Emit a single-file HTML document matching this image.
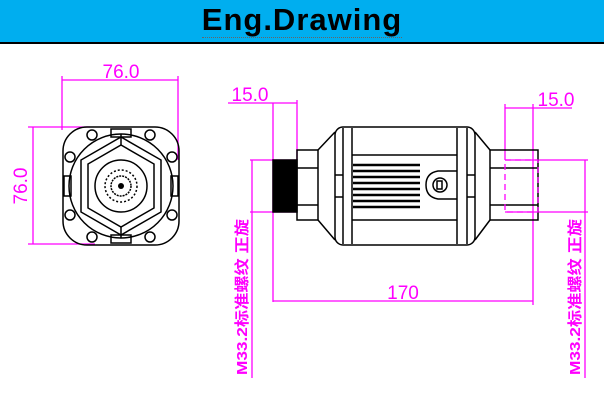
<!DOCTYPE html>
<html><head><meta charset="utf-8"><style>
html,body{margin:0;padding:0;background:#fff;}
body{width:604px;height:414px;overflow:hidden;position:relative;}
.hdr{position:absolute;left:0;top:0;width:604px;height:42px;background:#00aeef;border-bottom:2px solid #000;}
.t{position:absolute;left:0;width:604px;top:2px;text-align:center;font:bold 31px "Liberation Sans Narrow","Liberation Sans","Noto Sans CJK SC",sans-serif;color:#000;letter-spacing:1px;}
svg{position:absolute;left:0;top:0;}
</style></head><body>
<div class="hdr"><div class="t"><span style="border-bottom:1px dotted #666">Eng.Drawing</span></div></div>
<svg width="604" height="414" viewBox="0 0 604 414">
<g stroke="#f0f" stroke-width="1.3" fill="none">
<line x1="62" y1="80" x2="178" y2="80"/><line x1="62" y1="76" x2="62" y2="130"/><line x1="178" y1="76" x2="178" y2="160"/>
<line x1="33" y1="127" x2="33" y2="244"/><line x1="28" y1="127" x2="90" y2="127"/><line x1="28" y1="244" x2="95" y2="244"/>
<line x1="228" y1="103" x2="297" y2="103"/><line x1="273" y1="103" x2="273" y2="302"/><line x1="297" y1="100" x2="297" y2="160"/>
<line x1="505" y1="108" x2="572" y2="108"/><line x1="505" y1="104" x2="505" y2="160"/><line x1="533" y1="104" x2="533" y2="305"/>
<line x1="273" y1="301" x2="533" y2="301"/>
<line x1="250" y1="160" x2="297" y2="160"/><line x1="250" y1="212" x2="297" y2="212"/><line x1="252" y1="160" x2="252" y2="378"/>
<line x1="505" y1="160" x2="588" y2="160"/><line x1="505" y1="212" x2="588" y2="212"/><line x1="585" y1="160" x2="585" y2="378"/>
</g>
<g fill="#f0f" font-family="Liberation Sans Narrow, Liberation Sans, sans-serif" font-size="19">
<text x="121" y="78" text-anchor="middle">76.0</text>
<text transform="translate(27,186) rotate(-90)" text-anchor="middle">76.0</text>
<text x="250" y="101" text-anchor="middle">15.0</text>
<text x="556" y="106" text-anchor="middle">15.0</text>
<text x="403" y="299" text-anchor="middle">170</text>
<text transform="translate(247,297) rotate(-90)" text-anchor="middle" textLength="156" lengthAdjust="spacingAndGlyphs" font-size="15" font-weight="bold" font-family="Liberation Sans, Noto Sans CJK SC, sans-serif">M33.2标准螺纹 正旋</text>
<text transform="translate(580,297) rotate(-90)" text-anchor="middle" textLength="156" lengthAdjust="spacingAndGlyphs" font-size="15" font-weight="bold" font-family="Liberation Sans, Noto Sans CJK SC, sans-serif">M33.2标准螺纹 正旋</text>
</g>
<g stroke="#000" stroke-width="1.5" fill="none">
<rect x="63" y="127" width="116" height="118" rx="24"/>
<circle cx="121" cy="186" r="52"/>
<polygon points="121,137 161,160 161,212 121,235 81,212 81,160"/>
<polygon points="121,145 154,164 154,208 121,227 88,208 88,164"/>
<circle cx="121" cy="186" r="26"/><circle cx="121" cy="186" r="16" stroke-dasharray="2 2"/><circle cx="121" cy="186" r="10" stroke-dasharray="2 1"/>
<circle cx="92" cy="135" r="5"/><circle cx="150" cy="135" r="5"/><circle cx="92" cy="237" r="5"/><circle cx="150" cy="237" r="5"/>
<circle cx="70" cy="157" r="5"/><circle cx="70" cy="215" r="5"/><circle cx="172" cy="157" r="5"/><circle cx="172" cy="215" r="5"/>
<rect x="111" y="129" width="20" height="8"/><rect x="111" y="235" width="20" height="8"/>
<rect x="64" y="176" width="7" height="20"/><rect x="171" y="176" width="7" height="20"/>
<line x1="121" y1="134" x2="121" y2="145"/><line x1="121" y1="227" x2="121" y2="238"/>
</g>
<circle cx="121" cy="186" r="3" fill="#000"/>
<g stroke="#000" stroke-width="1.5" fill="none">
<rect x="273" y="160" width="24" height="52" fill="#000"/>
<rect x="297" y="150" width="21" height="70"/>
<line x1="297" y1="168" x2="318" y2="168"/><line x1="297" y1="205" x2="318" y2="205"/>
<path d="M318,150 L335,132 M318,220 L335,240"/>
<rect x="335" y="127" width="140" height="118" rx="8"/>
<line x1="343" y1="128" x2="343" y2="244"/><line x1="352" y1="128" x2="352" y2="244"/>
<line x1="457" y1="128" x2="457" y2="244"/><line x1="467" y1="128" x2="467" y2="244"/>
<line x1="352" y1="155" x2="457" y2="155"/><line x1="352" y1="220" x2="457" y2="220"/>
<line x1="335" y1="175" x2="343" y2="175"/><line x1="335" y1="197" x2="343" y2="197"/>
<line x1="467" y1="175" x2="475" y2="175"/><line x1="467" y1="197" x2="475" y2="197"/>
<circle cx="440" cy="185" r="7"/><path d="M457,171 L438,171 Q426,173 426,185 Q426,197 438,199 L457,199"/>
<rect x="437" y="181" width="5" height="8"/>
<path d="M475,132 L490,150 M475,240 L490,220"/>
<rect x="490" y="150" width="48" height="70"/>
<line x1="490" y1="168" x2="538" y2="168"/><line x1="490" y1="205" x2="538" y2="205"/>
</g>
<g stroke="#000" stroke-width="2.5">
<line x1="353" y1="165" x2="420" y2="165"/><line x1="353" y1="171" x2="420" y2="171"/><line x1="353" y1="177" x2="420" y2="177"/><line x1="353" y1="183" x2="420" y2="183"/><line x1="353" y1="189" x2="420" y2="189"/><line x1="353" y1="195" x2="420" y2="195"/><line x1="353" y1="201" x2="420" y2="201"/><line x1="353" y1="207" x2="420" y2="207"/>
</g>
<rect x="505" y="160" width="33" height="52" fill="none" stroke="#f0f" stroke-width="1.3" stroke-dasharray="6 4"/>
</svg>
</body></html>
